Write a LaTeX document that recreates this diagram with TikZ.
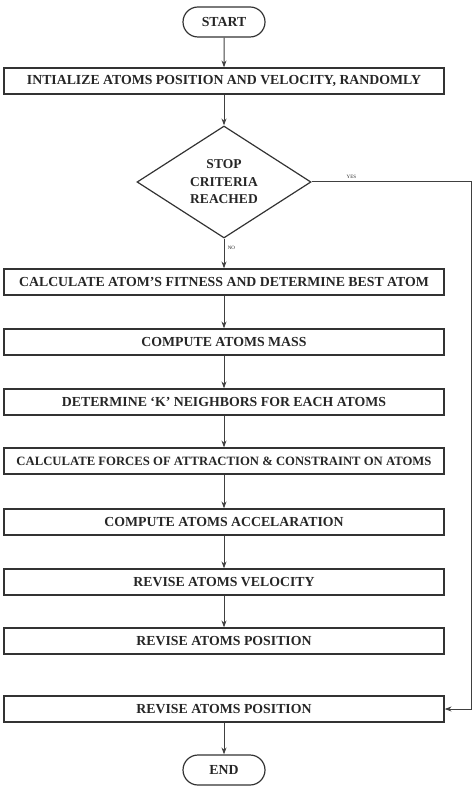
\documentclass[tikz,border=0pt]{standalone}
\usepackage{fontspec}
\setmainfont{Liberation Serif}
\usetikzlibrary{shapes.geometric,shapes.misc,arrows.meta}
\begin{document}
\begin{tikzpicture}[x=1pt,y=1pt,
  every node/.style={font=\bfseries\fontsize{13.8}{16}\selectfont, text=black!85},
  stepbox/.style={draw=black!80, line width=1.2pt, minimum width=440pt, minimum height=26pt, inner sep=0pt},
  term/.style={draw=black!80, line width=1.2pt, rounded rectangle, minimum width=82pt, minimum height=30pt, inner sep=0pt},
  decision/.style={draw=black!80, line width=1.2pt, diamond, minimum width=174pt, minimum height=112pt, inner sep=0pt, align=center, font=\bfseries\fontsize{13.5}{17.5}\selectfont},
  arr/.style={draw=black!75, line width=1pt, -{Stealth[length=7pt,width=5pt]}},
  lbl/.style={font=\fontsize{5}{6}\selectfont}
]
\useasboundingbox (0,0) rectangle (474,-791);
\node[term] (start) at (224,-22) {START};
\node[stepbox] (init) at (224,-81) {INTIALIZE ATOMS POSITION AND VELOCITY, RANDOMLY};
\node[decision] (stop) at (224,-182) {STOP\\CRITERIA\\REACHED};
\node[stepbox] (fit) at (224,-282) {CALCULATE ATOM'S FITNESS AND DETERMINE BEST ATOM};
\node[stepbox] (mass) at (224,-342) {COMPUTE ATOMS MASS};
\node[stepbox] (knb) at (224,-402) {DETERMINE `K' NEIGHBORS FOR EACH ATOMS};
\node[stepbox, font=\bfseries\fontsize{12.7}{15}\selectfont] (force) at (224,-461) {CALCULATE FORCES OF ATTRACTION \& CONSTRAINT ON ATOMS};
\node[stepbox] (acc) at (224,-522) {COMPUTE ATOMS ACCELARATION};
\node[stepbox] (vel) at (224,-582) {REVISE ATOMS VELOCITY};
\node[stepbox] (pos1) at (224,-641) {REVISE ATOMS POSITION};
\node[stepbox] (pos2) at (224,-709) {REVISE ATOMS POSITION};
\node[term] (end) at (224,-770) {END};
\coordinate (yesc) at (471,-182);
\draw[arr] (start) -- (init);
\draw[arr] (init) -- (stop);
\draw[arr] (stop) -- node[lbl, right, pos=0.3] {NO} (fit);
\draw[arr] (fit) -- (mass);
\draw[arr] (mass) -- (knb);
\draw[arr] (knb) -- (force);
\draw[arr] (force) -- (acc);
\draw[arr] (acc) -- (vel);
\draw[arr] (vel) -- (pos1);
\draw[arr] (stop.east) -- node[lbl, above, pos=0.25] {YES} (yesc) |- (pos2.east);
\draw[arr] (pos2) -- (end);
\end{tikzpicture}
\end{document}
